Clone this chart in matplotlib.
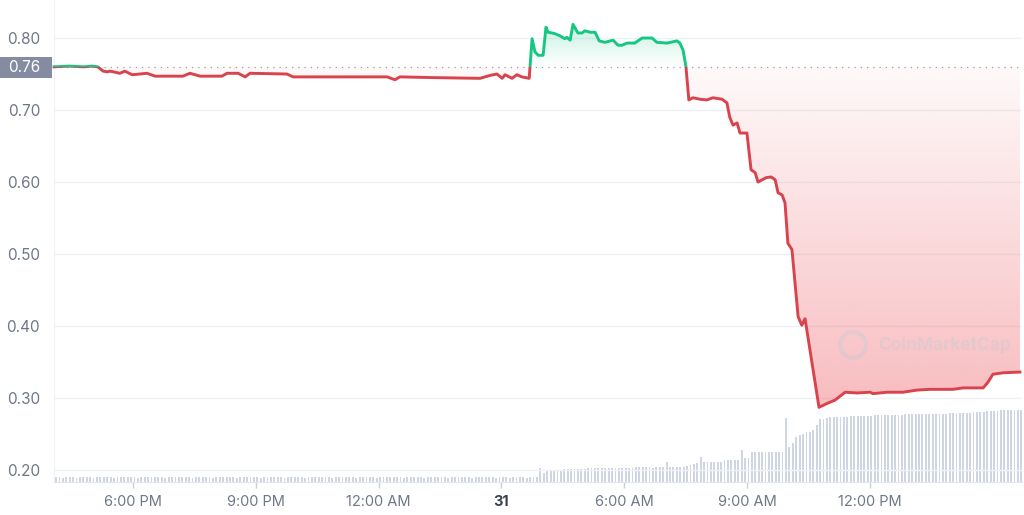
import numpy as np
import pandas as pd
import matplotlib
matplotlib.use("Agg")
import matplotlib.pyplot as plt
from matplotlib.path import Path
from matplotlib.patches import Rectangle, Circle
import matplotlib.transforms as mtransforms

plt.rcParams['font.family'] = ['Inter', 'DejaVu Sans']

# ---------------- data ----------------
# hours since 30 Oct 00:00
price_hours = [16.07, 16.45, 16.80, 17.00, 17.14, 17.27, 17.37, 17.44, 17.68, 17.80,
               17.98, 18.17, 18.34, 18.54, 19.22, 19.39, 19.64, 20.17, 20.30, 20.57,
               20.74, 20.86, 21.76, 21.91, 22.89, 23.23, 24.21, 24.40, 24.52, 25.33,
               26.48, 26.72, 26.89, 27.02, 27.09, 27.26, 27.38, 27.50, 27.68, 27.75,
               27.82, 27.90, 28.02, 28.09, 28.14, 28.24, 28.31, 28.43, 28.55, 28.60,
               28.68, 28.75, 28.87, 28.97, 29.04, 29.17, 29.29, 29.39, 29.53, 29.73,
               29.85, 29.95, 30.07, 30.26, 30.44, 30.68, 30.80, 31.05, 31.29, 31.36,
               31.44, 31.51, 31.58, 31.68, 31.85, 32.02, 32.17, 32.39, 32.51, 32.58,
               32.66, 32.76, 32.83, 33.00, 33.10, 33.20, 33.27, 33.47, 33.59, 33.69,
               33.76, 33.86, 33.93, 34.00, 34.10, 34.25, 34.34, 34.42, 34.76, 34.98,
               35.15, 35.40, 35.69, 36.01, 36.08, 36.42, 36.81, 37.16, 37.47, 38.03,
               38.28, 38.77, 38.89, 39.01, 39.26, 39.67]
price_values = [0.760, 0.761, 0.760, 0.761, 0.760, 0.754, 0.753, 0.754, 0.751, 0.754,
                0.749, 0.750, 0.751, 0.747, 0.747, 0.751, 0.747, 0.747, 0.751, 0.751,
                0.746, 0.751, 0.750, 0.746, 0.746, 0.746, 0.746, 0.742, 0.746, 0.745,
                0.744, 0.748, 0.750, 0.744, 0.749, 0.744, 0.749, 0.746, 0.744, 0.799,
                0.781, 0.776, 0.776, 0.815, 0.808, 0.807, 0.806, 0.803, 0.799, 0.801,
                0.797, 0.819, 0.807, 0.807, 0.810, 0.808, 0.808, 0.796, 0.794, 0.797,
                0.790, 0.790, 0.793, 0.793, 0.800, 0.800, 0.794, 0.793, 0.796, 0.793,
                0.783, 0.760, 0.714, 0.717, 0.715, 0.714, 0.717, 0.715, 0.710, 0.690,
                0.679, 0.682, 0.668, 0.668, 0.617, 0.613, 0.600, 0.606, 0.607, 0.603,
                0.585, 0.582, 0.571, 0.515, 0.506, 0.413, 0.401, 0.410, 0.287, 0.293,
                0.297, 0.308, 0.307, 0.308, 0.306, 0.308, 0.308, 0.311, 0.312, 0.312,
                0.314, 0.314, 0.322, 0.333, 0.335, 0.336]
open_price = 0.7597
open_label = "0.76"

# 5-minute volume bars (arbitrary units)
volume = [
    5, 5, 4, 5, 5, 5, 4, 5, 5, 5, 5, 4, 5, 5, 5, 5, 5, 4, 5, 5,
    5, 5, 5, 5, 4, 5, 5, 5, 5, 5, 5, 5, 4, 5, 5, 5, 5, 5, 5, 5,
    4, 5, 5, 5, 5, 5, 4, 5, 5, 5, 5, 5, 5, 4, 5, 5, 5, 5, 5, 5,
    4, 5, 5, 5, 5, 5, 5, 4, 5, 5, 5, 5, 5, 4, 5, 5, 5, 5, 5, 5,
    5, 4, 5, 5, 5, 5, 5, 5, 4, 5, 5, 5, 5, 5, 4, 5, 5, 5, 5, 5,
    5, 5, 4, 5, 5, 5, 5, 5, 4, 5, 5, 5, 5, 5, 5, 4, 5, 5, 5, 5,
    5, 5, 4, 5, 5, 5, 5, 5, 5, 4, 5, 5, 5, 4, 5, 5, 5, 5, 4, 5,
    5, 5, 14, 9, 12, 12, 12, 12, 12, 13,
    13, 13, 13, 13, 13, 13, 14, 14, 14, 14, 14, 14, 14, 14, 14, 14, 14, 14, 14, 14,
    15, 15, 15, 15, 15, 14, 15, 15, 15, 20, 15, 15, 15, 15, 15, 16, 17, 18, 19, 25,
    20, 20, 20, 20, 20, 20, 22, 22, 22, 22, 22, 32, 24, 24, 30, 30, 30, 30, 30, 30,
    30, 30, 30, 30, 64, 35, 39, 45, 47, 48, 50, 50, 52, 57, 63, 63, 64, 65, 65, 65,
    65, 65, 65, 66, 66, 66, 66, 66, 66, 66, 67, 67, 67, 67, 67, 67,
    67, 67, 67, 68, 68, 68, 68, 68, 68, 68, 68, 68, 68, 68, 68, 68, 69, 69, 69, 69,
    69, 69, 69, 70, 70, 70, 70, 71, 71, 71, 71, 72, 72, 72, 72, 72, 72, 72]

tick_hours = [18, 21, 24, 27, 30, 33, 36]
tick_labels = ["6:00 PM", "9:00 PM", "12:00 AM", "31", "6:00 AM", "9:00 AM", "12:00 PM"]
ytick_values = [0.20, 0.30, 0.40, 0.50, 0.60, 0.70, 0.80]

# ---------------- style ----------------
GREEN = "#16c784"
RED = "#ea3943"
TXT = "#6f7888"
GRID = "#eff2f5"

t = np.array(price_hours)
v = np.array(price_values)

fig = plt.figure(figsize=(10.24, 5.15), dpi=100)
ax = fig.add_axes([54/1024, 33/515, 968/1024, 482/515])
ax2 = ax.twinx()
ax.set_zorder(2)
ax.patch.set_visible(False)
ax2.set_zorder(1)

xmin, xmax = 16.07, 39.72

# volume bars
bar_hours = 16.12 + np.arange(len(volume)) / 12.0
ax2.bar(bar_hours, volume, width=0.045, color="#cfd5e2", linewidth=0, align="center")
ax2.set_ylim(0, 482)
ax2.set_yticks([])
for s in ax2.spines.values():
    s.set_visible(False)

ax.set_xlim(xmin, xmax)
ax.set_ylim(0.1833, 0.8528)

# grid
ax.set_yticks(ytick_values)
ax.set_yticklabels([f"{y:.2f}" for y in ytick_values])
ax.grid(axis="y", color=GRID, linewidth=1)
ax.set_axisbelow(True)
ax.tick_params(axis="y", length=0, pad=10, labelsize=11, labelcolor=TXT)

ax.set_xticks(tick_hours)
ax.set_xticklabels(tick_labels)
ax.tick_params(axis="x", length=4, width=1, color="#c9ced8", pad=5,
               labelsize=10.5, labelcolor=TXT)
for lab in ax.get_xticklabels():
    if lab.get_text() == "31":
        lab.set_fontweight("bold")
        lab.set_color("#3a4150")

for name in ["top", "right"]:
    ax.spines[name].set_visible(False)
ax.spines["left"].set_color(GRID)
ax.spines["bottom"].set_color("#e3e6eb")

# baseline
ax.axhline(open_price, color="#9aa1af", linewidth=0.9, linestyle=(0, (1, 4)), zorder=2)

# gradient fills
def gradient_fill(where, color, alpha_top, alpha_bottom, y0, y1):
    coll = ax.fill_between(t, v, open_price, where=where, interpolate=True,
                           color="none", linewidth=0)
    paths = coll.get_paths()
    coll.remove()
    if not paths:
        return
    comp = Path.make_compound_path(*paths)
    rgb = matplotlib.colors.to_rgb(color)
    n = 256
    img = np.zeros((n, 1, 4))
    img[:, 0, :3] = rgb
    img[:, 0, 3] = np.linspace(alpha_top, alpha_bottom, n)
    im = ax.imshow(img, extent=[xmin, xmax, y0, y1], origin="upper",
                   aspect="auto", zorder=1.5, interpolation="bilinear")
    im.set_clip_path(comp, ax.transData)

gradient_fill(v >= open_price, GREEN, 0.24, 0.0, open_price, v.max())
gradient_fill(v <= open_price, RED, 0.03, 0.34, v.min(), open_price)
ax.set_xlim(xmin, xmax)
ax.set_ylim(0.1833, 0.8528)

# line split by baseline
big = 10
g_clip = Rectangle((xmin - 5, open_price), 100, big, transform=ax.transData)
r_clip = Rectangle((xmin - 5, open_price - big), 100, big, transform=ax.transData)
lg, = ax.plot(t, v, color=GREEN, linewidth=2.1, zorder=3, solid_joinstyle="round")
lg.set_clip_path(g_clip)
lr, = ax.plot(t, v, color="#d9434d", linewidth=2.1, zorder=3, solid_joinstyle="round")
lr.set_clip_path(r_clip)

# open price label box
bt = mtransforms.blended_transform_factory(fig.transFigure, ax.transData)
ax.add_patch(Rectangle((0, open_price - 0.0146), 52/1024, 0.0292, transform=bt,
                       facecolor="#858ca2", edgecolor="none", clip_on=False, zorder=5))
ax.text(24/1024, open_price, open_label, transform=bt, ha="center", va="center",
        color="white", fontsize=11, zorder=6, clip_on=False)

# watermark
ax.add_patch(Circle((853, 515 - 345), 13, transform=None, facecolor="none",
                    edgecolor="#c5cad6", linewidth=3, alpha=0.4, zorder=2))
fig.text(878/1024, 1 - 345/515, "CoinMarketCap", ha="left", va="center",
         fontsize=12.5, fontweight="bold", color="#c5cad6", alpha=0.4, zorder=3)

fig.savefig("out.png", dpi=100)
